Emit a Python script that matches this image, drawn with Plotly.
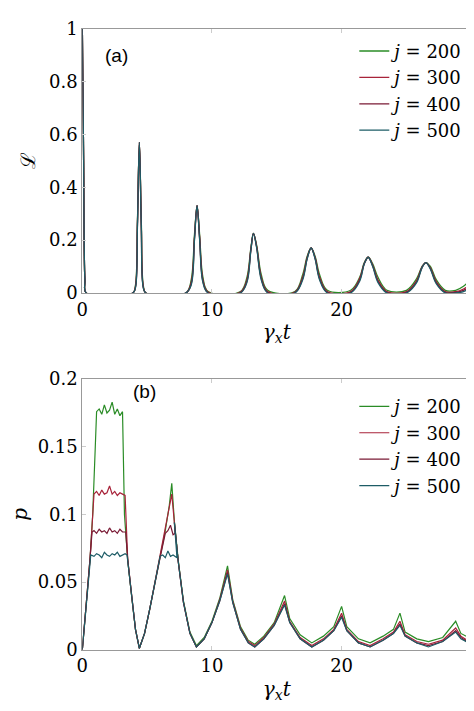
import plotly.graph_objects as go

# ---- panel (a): echo L vs gamma_x t ----
t_a = [0, 0.1, 0.2, 0.3,
       3.9, 4.1, 4.25, 4.4, 4.55, 4.7, 4.9,
       8.0, 8.4, 8.65, 8.85, 9.05, 9.3, 9.7,
       12.2, 12.7, 13.0, 13.2, 13.45, 13.8, 14.3,
       16.4, 17.0, 17.35, 17.65, 17.95, 18.3, 18.9,
       20.7, 21.4, 21.75, 22.05, 22.4, 22.8, 23.5,
       25.0, 25.8, 26.2, 26.5, 26.85, 27.3, 28.0,
       28.8, 29.4, 30]
L_200 = [1, 0.5, 0.05, 0,
         0, 0.03, 0.27, 0.57, 0.27, 0.03, 0,
         0, 0.05, 0.22, 0.33, 0.22, 0.06, 0.005,
         0.005, 0.06, 0.17, 0.225, 0.18, 0.07, 0.01,
         0.005, 0.07, 0.14, 0.17, 0.14, 0.07, 0.01,
         0.01, 0.06, 0.115, 0.135, 0.11, 0.06, 0.01,
         0.01, 0.055, 0.1, 0.115, 0.1, 0.05, 0.01,
         0.01, 0.025, 0.055]
L_300 = [1, 0.5, 0.05, 0,
         0, 0.025, 0.26, 0.57, 0.26, 0.025, 0,
         0, 0.04, 0.21, 0.33, 0.21, 0.05, 0.003,
         0.003, 0.05, 0.165, 0.225, 0.175, 0.06, 0.005,
         0.003, 0.06, 0.135, 0.17, 0.135, 0.06, 0.005,
         0.005, 0.055, 0.112, 0.135, 0.105, 0.05, 0.005,
         0.005, 0.048, 0.098, 0.115, 0.095, 0.043, 0.005,
         0.005, 0.015, 0.035]
L_400 = [1, 0.5, 0.05, 0,
         0, 0.022, 0.255, 0.57, 0.255, 0.022, 0,
         0, 0.035, 0.205, 0.33, 0.205, 0.045, 0.001,
         0.001, 0.045, 0.162, 0.225, 0.172, 0.055, 0.002,
         0.001, 0.055, 0.132, 0.17, 0.132, 0.055, 0.002,
         0.002, 0.05, 0.11, 0.135, 0.102, 0.045, 0.002,
         0.002, 0.044, 0.096, 0.115, 0.092, 0.039, 0.002,
         0.002, 0.01, 0.027]
L_500 = [1, 0.5, 0.05, 0,
         0, 0.02, 0.25, 0.57, 0.25, 0.02, 0,
         0, 0.03, 0.2, 0.33, 0.2, 0.04, 0,
         0, 0.04, 0.16, 0.225, 0.17, 0.05, 0,
         0, 0.05, 0.13, 0.17, 0.13, 0.05, 0,
         0, 0.045, 0.11, 0.135, 0.1, 0.04, 0,
         0, 0.04, 0.095, 0.115, 0.09, 0.035, 0,
         0, 0.005, 0.02]

# ---- panel (b) ----
t_tail = [7.1, 7.4, 7.8, 8.3, 8.8, 9.4, 10.0, 10.6, 11.2, 11.6, 12.2, 12.8, 13.3,
          14.0, 14.8, 15.6, 16.0, 16.8, 17.7, 18.6, 19.4, 20.0, 20.4, 21.3, 22.2,
          23.2, 24.0, 24.5, 24.9, 25.8, 26.7, 27.8, 28.8, 29.2, 30]
y_tail_200 = [0.095, 0.066, 0.036, 0.013, 0.003, 0.009, 0.021, 0.038, 0.062, 0.037, 0.017, 0.007, 0.004,
              0.01, 0.02, 0.04, 0.023, 0.011, 0.005, 0.01, 0.017, 0.032, 0.017, 0.008, 0.005,
              0.01, 0.015, 0.027, 0.013, 0.008, 0.006, 0.009, 0.021, 0.012, 0.008]
y_tail_300 = [0.094, 0.065, 0.035, 0.012, 0.002, 0.008, 0.02, 0.037, 0.059, 0.036, 0.016, 0.006, 0.003,
              0.009, 0.019, 0.036, 0.021, 0.009, 0.003, 0.008, 0.015, 0.027, 0.015, 0.006, 0.003,
              0.008, 0.013, 0.021, 0.011, 0.006, 0.004, 0.007, 0.016, 0.01, 0.005]
y_tail_400 = [0.094, 0.065, 0.035, 0.012, 0.002, 0.008, 0.02, 0.036, 0.057, 0.035, 0.015, 0.005, 0.002,
              0.008, 0.018, 0.034, 0.02, 0.008, 0.002, 0.007, 0.014, 0.025, 0.014, 0.005, 0.002,
              0.007, 0.012, 0.019, 0.01, 0.005, 0.003, 0.006, 0.014, 0.009, 0.004]
y_tail_500 = [0.094, 0.065, 0.035, 0.012, 0.002, 0.008, 0.02, 0.036, 0.056, 0.035, 0.015, 0.005, 0.002,
              0.008, 0.018, 0.033, 0.02, 0.008, 0.002, 0.007, 0.014, 0.024, 0.014, 0.005, 0.002,
              0.007, 0.012, 0.018, 0.01, 0.005, 0.002, 0.006, 0.013, 0.008, 0.004]

t_200 = [0, 0.2, 0.4, 0.6, 0.8, 1.0, 1.1, 1.3, 1.5, 1.7, 1.9, 2.1, 2.3, 2.5, 2.7, 2.9, 3.1,
         3.25, 3.5, 3.8, 4.1, 4.4, 4.8, 5.2, 5.6, 6.0, 6.4, 6.7, 6.9]
y_200 = [0, 0.02, 0.045, 0.068, 0.1, 0.15, 0.176, 0.178, 0.174, 0.181, 0.175, 0.177, 0.183, 0.174, 0.178, 0.173, 0.176,
         0.1, 0.066, 0.04, 0.015, 0.001, 0.012, 0.03, 0.05, 0.068, 0.088, 0.106, 0.123]
t_300 = [0, 0.2, 0.4, 0.6, 0.8, 0.9, 1.1, 1.3, 1.5, 1.7, 1.9, 2.1, 2.3, 2.5, 2.7, 2.9, 3.1, 3.3,
         3.5, 3.8, 4.1, 4.4, 4.8, 5.2, 5.6, 6.0, 6.4, 6.7, 6.9]
y_300 = [0, 0.02, 0.045, 0.068, 0.1, 0.115, 0.117, 0.114, 0.118, 0.115, 0.116, 0.121, 0.115, 0.117, 0.114, 0.116, 0.115, 0.114,
         0.067, 0.04, 0.015, 0.001, 0.012, 0.03, 0.05, 0.068, 0.088, 0.104, 0.115]
t_400 = [0, 0.2, 0.4, 0.6, 0.75, 0.9, 1.1, 1.3, 1.5, 1.7, 1.9, 2.1, 2.3, 2.5, 2.7, 2.9, 3.1, 3.35,
         3.5, 3.8, 4.1, 4.4, 4.8, 5.2, 5.6, 6.0, 6.4, 6.6, 6.8, 7.0, 7.15]
y_400 = [0, 0.02, 0.045, 0.068, 0.087, 0.088, 0.086, 0.089, 0.087, 0.088, 0.086, 0.09, 0.087, 0.088, 0.086, 0.089, 0.087, 0.087,
         0.067, 0.04, 0.015, 0.001, 0.012, 0.03, 0.05, 0.068, 0.086, 0.088, 0.092, 0.085, 0.086]
t_500 = [0, 0.2, 0.4, 0.65, 0.9, 1.1, 1.3, 1.5, 1.7, 1.9, 2.1, 2.3, 2.5, 2.7, 2.9, 3.1, 3.3, 3.45,
         3.8, 4.1, 4.4, 4.8, 5.2, 5.6, 6.0, 6.2, 6.4, 6.6, 6.8, 7.0, 7.3]
y_500 = [0, 0.02, 0.045, 0.07, 0.069, 0.071, 0.07, 0.068, 0.072, 0.07, 0.069, 0.071, 0.07, 0.072, 0.069, 0.07, 0.071, 0.07,
         0.04, 0.015, 0.001, 0.012, 0.03, 0.05, 0.069, 0.07, 0.068, 0.073, 0.069, 0.07, 0.068]

names = ["<i>j</i> = 200", "<i>j</i> = 300", "<i>j</i> = 400", "<i>j</i> = 500"]
colors = ["#2a8c26", "#a8233a", "#7a1a35", "#1d5c66"]

fig = go.Figure()
for L, nm, c in zip([L_200, L_300, L_400, L_500], names, colors):
    fig.add_trace(go.Scatter(x=t_a, y=L, name=nm, mode="lines", line=dict(color=c, width=1.3, shape="spline"),
                             xaxis="x", yaxis="y", legend="legend"))

b_sets = [(t_200 + t_tail, y_200 + y_tail_200), (t_300 + t_tail, y_300 + y_tail_300),
          (t_400 + t_tail, y_400 + y_tail_400), (t_500 + t_tail, y_500 + y_tail_500)]
for (tx, ty), nm, c in zip(b_sets, names, colors):
    fig.add_trace(go.Scatter(x=tx, y=ty, name=nm, mode="lines", line=dict(color=c, width=1.2),
                             xaxis="x2", yaxis="y2", legend="legend2"))

serif = "DejaVu Serif"
tfont = dict(family=serif, size=20, color="black")
ax = dict(showline=True, linecolor="#999", mirror="allticks", ticks="inside", tickcolor="#ccc",
          ticklen=4, showgrid=False, zeroline=False, tickfont=dict(family=serif, size=18, color="black"))
fig.update_layout(
    width=474, height=711, plot_bgcolor="white", paper_bgcolor="white",
    margin=dict(l=0, r=0, t=0, b=0),
    xaxis=dict(ax, domain=[0.146, 0.977], range=[0, 30], tickvals=[0, 10, 20, 30], anchor="y",
               title=dict(text="<i>γ<sub>x</sub>t</i>", font=tfont, standoff=6)),
    yaxis=dict(ax, domain=[0.603, 0.986], range=[0, 1], tickvals=[0, 0.2, 0.4, 0.6, 0.8, 1],
               ticktext=["0", "0.2", "0.4", "0.6", "0.8", "1"], anchor="x",
               title=dict(text="ℒ", font=tfont, standoff=8)),
    xaxis2=dict(ax, domain=[0.146, 0.977], range=[0, 30], tickvals=[0, 10, 20, 30], anchor="y2",
                title=dict(text="<i>γ<sub>x</sub>t</i>", font=tfont, standoff=6)),
    yaxis2=dict(ax, domain=[0.086, 0.478], range=[0, 0.2], tickvals=[0, 0.05, 0.1, 0.15, 0.2],
                ticktext=["0", "0.05", "0.1", "0.15", "0.2"], anchor="x2",
                title=dict(text="<i>p</i>", font=tfont, standoff=4)),
    legend=dict(x=0.975, y=0.98, xanchor="right", yanchor="top", bgcolor="rgba(0,0,0,0)",
                font=dict(family=serif, size=18, color="black"), itemwidth=30, tracegroupgap=0),
    legend2=dict(x=0.975, y=0.465, xanchor="right", yanchor="top", bgcolor="rgba(0,0,0,0)",
                 font=dict(family=serif, size=18, color="black"), itemwidth=30, tracegroupgap=0),
    annotations=[
        dict(text="(a)", x=0.19, y=0.965, xref="paper", yref="paper", showarrow=False,
             font=dict(family="Liberation Sans", size=19, color="black"), xanchor="left"),
        dict(text="(b)", x=0.25, y=0.46, xref="paper", yref="paper", showarrow=False,
             font=dict(family="Liberation Sans", size=19, color="black"), xanchor="left"),
    ],
)
fig.write_html("out.html")
